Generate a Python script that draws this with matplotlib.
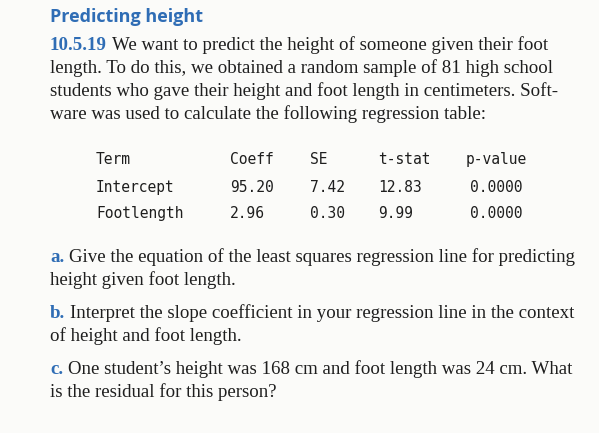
import matplotlib.pyplot as plt

W, H = 599, 433
BLUE = "#2f6db5"
INK = "#1e1e1e"

title = "Predicting height"
intro = ["We want to predict the height of someone given their foot",
         "length. To do this, we obtained a random sample of 81 high school",
         "students who gave their height and foot length in centimeters. Soft-",
         "ware was used to calculate the following regression table:"]
header = ["Term", "Coeff", "SE", "t-stat", "p-value"]
terms = ["Intercept", "Footlength"]
coeff = ["95.20", "2.96"]
se = ["7.42", "0.30"]
tstat = ["12.83", "9.99"]
pvalue = ["0.0000", "0.0000"]
questions = [("a.", ["Give the equation of the least squares regression line for predicting",
                     "height given foot length."]),
             ("b.", ["Interpret the slope coefficient in your regression line in the context",
                     "of height and foot length."]),
             ("c.", ["One student\u2019s height was 168 cm and foot length was 24 cm. What",
                     "is the residual for this person?"])]

fig = plt.figure(figsize=(W / 100, H / 100), dpi=100)
fig.patch.set_facecolor("#fbfbf9")
r = fig.canvas.get_renderer()
FS = 13.6


def put(x, y, s, **kw):
    # x, y in pixels from top-left
    return fig.text(x / W, 1 - y / H, s, va="baseline", **kw)


def labelled(x, y, lab, first, rest, gap=5):
    t = put(x, y, lab, family="Liberation Serif", fontsize=FS, weight="bold", color=BLUE)
    w = t.get_window_extent(r).width
    put(x + w + gap, y, first, family="Liberation Serif", fontsize=FS, color=INK)
    for i, line in enumerate(rest):
        put(x, y + 23 * (i + 1), line, family="Liberation Serif", fontsize=FS, color=INK)


put(50, 22, title, family="Open Sans", fontsize=13, weight="bold", color=BLUE)
labelled(50, 50, "10.5.19", intro[0], intro[1:])

mono = dict(family="DejaVu Sans Mono", fontsize=10.5, color=INK)
cols = [96, 230, 310, 378, 466]
for x, h in zip(cols, header):
    put(x, 164, h, **mono)
for i in range(len(terms)):
    y = 192 + 26 * i
    for x, v in zip(cols, [terms[i], coeff[i], se[i], tstat[i], pvalue[i]]):
        put(x + (4 if x == 466 else 0), y, v, **mono)

for i, (lab, lines) in enumerate(questions):
    labelled(50, 262 + 56 * i, lab, lines[0], lines[1:])

fig.savefig("out.png", dpi=100, facecolor=fig.get_facecolor())
